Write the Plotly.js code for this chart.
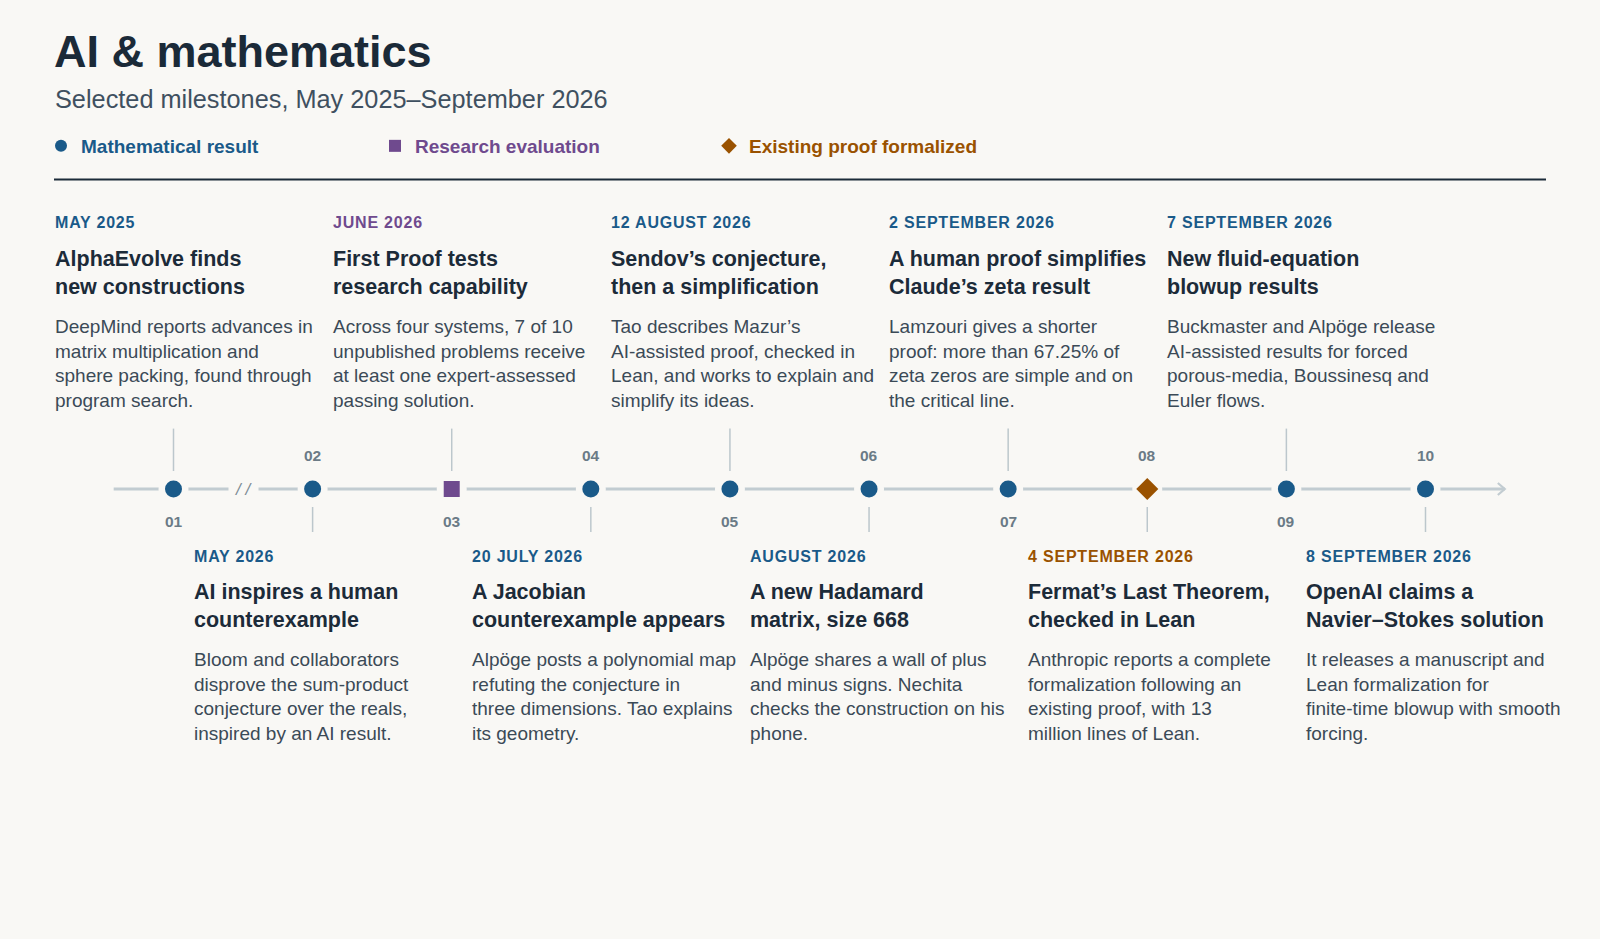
<!DOCTYPE html>
<html>
<head>
<meta charset="utf-8">
<script src="https://cdn.plot.ly/plotly-3.0.1.min.js"></script>
<style>
  html, body { margin: 0; padding: 0; background: #f9f8f5; }
  #chart { width: 1600px; height: 939px; }
</style>
</head>
<body>
<div id="chart"></div>
<script>
// ---------------- DATA ----------------
const eventNumbers = ['01','02','03','04','05','06','07','08','09','10'];
const eventDates = ['MAY 2025','MAY 2026','JUNE 2026','20 JULY 2026','12 AUGUST 2026',
  'AUGUST 2026','2 SEPTEMBER 2026','4 SEPTEMBER 2026','7 SEPTEMBER 2026','8 SEPTEMBER 2026'];
const eventKinds = ['result','result','evaluation','result','result',
  'result','result','formalized','result','result'];
const eventHeadlines = [
  ['AlphaEvolve finds','new constructions'],
  ['AI inspires a human','counterexample'],
  ['First Proof tests','research capability'],
  ['A Jacobian','counterexample appears'],
  ['Sendov’s conjecture,','then a simplification'],
  ['A new Hadamard','matrix, size 668'],
  ['A human proof simplifies','Claude’s zeta result'],
  ['Fermat’s Last Theorem,','checked in Lean'],
  ['New fluid-equation','blowup results'],
  ['OpenAI claims a','Navier–Stokes solution']
];
const eventBodies = [
  ['DeepMind reports advances in','matrix multiplication and','sphere packing, found through','program search.'],
  ['Bloom and collaborators','disprove the sum-product','conjecture over the reals,','inspired by an AI result.'],
  ['Across four systems, 7 of 10','unpublished problems receive','at least one expert-assessed','passing solution.'],
  ['Alpöge posts a polynomial map','refuting the conjecture in','three dimensions. Tao explains','its geometry.'],
  ['Tao describes Mazur’s','AI-assisted proof, checked in','Lean, and works to explain and','simplify its ideas.'],
  ['Alpöge shares a wall of plus','and minus signs. Nechita','checks the construction on his','phone.'],
  ['Lamzouri gives a shorter','proof: more than 67.25% of','zeta zeros are simple and on','the critical line.'],
  ['Anthropic reports a complete','formalization following an','existing proof, with 13','million lines of Lean.'],
  ['Buckmaster and Alpöge release','AI-assisted results for forced','porous-media, Boussinesq and','Euler flows.'],
  ['It releases a manuscript and','Lean formalization for','finite-time blowup with smooth','forcing.']
];
const kindNames = ['Mathematical result','Research evaluation','Existing proof formalized'];
const kindKeys = ['result','evaluation','formalized'];
const chartTitle = 'AI &amp; mathematics';
const chartSubtitle = 'Selected milestones, May 2025–September 2026';

// ---------------- STYLE ----------------
const BG = '#f9f8f5';
const FONT = 'Liberation Sans, Arial, Helvetica, sans-serif';
const kindColors = {result:'#1a5a89', evaluation:'#6f4a8e', formalized:'#9a5200'};
const kindSymbols = {result:'circle', evaluation:'square', formalized:'diamond'};
const kindSizes = {result:17, evaluation:16, formalized:17};
const HEAD = '#1c2b39', BODYC = '#3b4a57', NUMC = '#6b7b86';
const LINEC = '#c2ccd1', CONNC = '#bcc7cc';

const W = 1600, H = 939;
const LINE_Y = 489;
const X_MIN = -0.2472, X_MAX = 11.2545;   // index axis (spacing ~139 px)
const LINE_START = 0.57, LINE_END = 10.57;

const xs = eventNumbers.map((_, i) => i + 1);
const isTop = xs.map((_, i) => i % 2 === 0);

const traces = [];
// timeline line
traces.push({x:[LINE_START, LINE_END], y:[LINE_Y, LINE_Y], mode:'lines',
  line:{color:LINEC, width:3}, hoverinfo:'skip', showlegend:false});
// arrow chevron
traces.push({x:[LINE_END-0.05, LINE_END, LINE_END-0.05], y:[LINE_Y-6, LINE_Y, LINE_Y+6], mode:'lines',
  line:{color:LINEC, width:2.2}, hoverinfo:'skip', showlegend:false});
// halos
traces.push({x:xs, y:xs.map(() => LINE_Y), mode:'markers',
  marker:{size:30, color:BG, symbol:'circle'}, hoverinfo:'skip', showlegend:false});
// markers by kind
kindKeys.forEach((k, ki) => {
  const idx = eventKinds.map((v, i) => v === k ? i : -1).filter(i => i >= 0);
  traces.push({
    x: idx.map(i => xs[i]), y: idx.map(() => LINE_Y), mode:'markers', type:'scatter',
    name: '<span style="color:' + kindColors[k] + '"><b>' + kindNames[ki] + '</b></span>',
    marker:{size:kindSizes[k], color:kindColors[k], symbol:kindSymbols[k], line:{width:0}},
    text: idx.map(i => eventDates[i]), hoverinfo:'text', showlegend:true
  });
});

const shapes = [];
// header rule
shapes.push({type:'line', xref:'paper', yref:'paper', x0:54/W, x1:1546/W, y0:1-179.6/H, y1:1-179.6/H,
  line:{color:HEAD, width:2}});
// connectors
xs.forEach((x, i) => {
  const y0 = isTop[i] ? 428.6 : 507, y1 = isTop[i] ? 471 : 532;
  shapes.push({type:'line', xref:'x', yref:'y', x0:x, x1:x, y0:y0, y1:y1, line:{color:CONNC, width:1.5}});
});

const ann = [];
ann.push({xref:'paper', yref:'paper', x:52/W, y:1-51/H, xanchor:'left', yanchor:'middle', showarrow:false,
  text:chartTitle, font:{family:FONT, size:45, color:'#1b2a38', weight:700}});
ann.push({xref:'paper', yref:'paper', x:53/W, y:1-98.5/H, xanchor:'left', yanchor:'middle', showarrow:false,
  text:chartSubtitle, font:{family:FONT, size:25.3, color:'#3f5060'}});
// break mark
ann.push({x:1.5, y:LINE_Y, xref:'x', yref:'y', showarrow:false, text:'<i>/ /</i>', bgcolor:BG, borderpad:6,
  font:{family:FONT, size:17, color:'#7d8c96'}, xanchor:'center', yanchor:'middle'});

const DX = -121;
xs.forEach((x, i) => {
  const off = isTop[i] ? 0 : 333.8;
  const c = kindColors[eventKinds[i]];
  // number
  ann.push({x:x, y: isTop[i] ? 521.5 : 455, xref:'x', yref:'y', showarrow:false, text:eventNumbers[i],
    font:{family:FONT, size:15.5, color:NUMC, weight:700}, xanchor:'center', yanchor:'middle'});
  // date
  ann.push({x:x, y:222.5+off, xref:'x', yref:'y', xshift:DX, xanchor:'left', yanchor:'middle', showarrow:false,
    align:'left', text:'<span style="letter-spacing:0.8px">' + eventDates[i] + '</span>',
    font:{family:FONT, size:16, color:c, weight:700}});
  // headline
  ann.push({x:x, y:272.6+off, xref:'x', yref:'y', xshift:DX, xanchor:'left', yanchor:'middle', showarrow:false,
    align:'left', text:eventHeadlines[i].join('<br>'),
    font:{family:FONT, size:21.5, color:HEAD, weight:700}});
  // body
  ann.push({x:x, y:363+off, xref:'x', yref:'y', xshift:DX, xanchor:'left', yanchor:'middle', showarrow:false,
    align:'left', text:eventBodies[i].join('<br>'),
    font:{family:FONT, size:19, color:BODYC}});
});

const layout = {
  width:W, height:H, margin:{l:0, r:0, t:0, b:0},
  paper_bgcolor:BG, plot_bgcolor:BG,
  xaxis:{range:[X_MIN, X_MAX], visible:false, fixedrange:true},
  yaxis:{range:[H, 0], visible:false, fixedrange:true},
  showlegend:true,
  legend:{orientation:'h', x:41/W, y:1-146/H, xanchor:'left', yanchor:'middle',
    entrywidth:289, entrywidthmode:'pixels', itemsizing:'constant', traceorder:'normal',
    bgcolor:'rgba(0,0,0,0)', font:{family:FONT, size:19, color:HEAD}, itemclick:false, itemdoubleclick:false},
  shapes:shapes, annotations:ann, hovermode:'closest'
};

Plotly.newPlot('chart', traces, layout, {displayModeBar:false, staticPlot:false});
</script>
</body>
</html>
